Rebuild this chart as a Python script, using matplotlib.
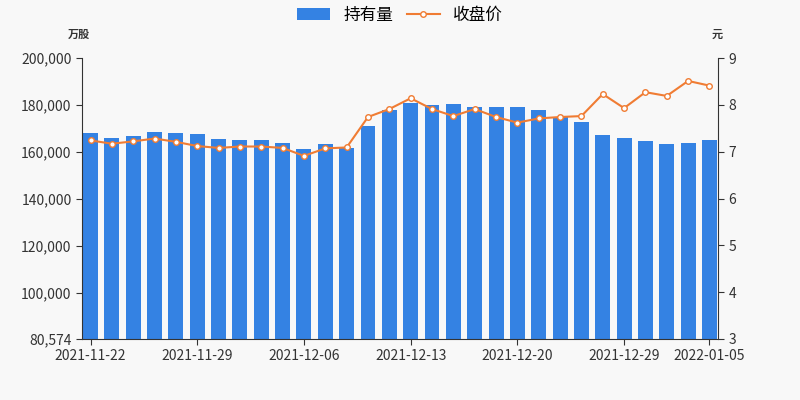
import matplotlib.pyplot as plt
import numpy as np

plt.rcParams['font.family'] = ['Noto Sans CJK SC', 'DejaVu Sans']

dates = ['2021-11-22', '2021-11-23', '2021-11-24', '2021-11-25', '2021-11-26',
         '2021-11-29', '2021-11-30', '2021-12-01', '2021-12-02', '2021-12-03',
         '2021-12-06', '2021-12-07', '2021-12-08', '2021-12-09', '2021-12-10',
         '2021-12-13', '2021-12-14', '2021-12-15', '2021-12-16', '2021-12-17',
         '2021-12-20', '2021-12-21', '2021-12-22', '2021-12-23', '2021-12-24',
         '2021-12-29', '2021-12-30', '2021-12-31', '2022-01-04', '2022-01-05']
holdings = [168113, 166120, 166832, 168540, 168256, 167687, 165552, 165267, 165267, 163701,
            161138, 163558, 161707, 171245, 177794, 180925, 180213, 180498, 179359, 179075,
            179075, 177936, 175089, 172811, 167260, 166120, 164839, 163273, 163985, 165267]
prices = [7.24, 7.17, 7.22, 7.28, 7.21, 7.12, 7.08, 7.11, 7.11, 7.08,
          6.91, 7.07, 7.09, 7.74, 7.91, 8.14, 7.91, 7.76, 7.91, 7.74,
          7.62, 7.71, 7.74, 7.76, 8.23, 7.93, 8.27, 8.19, 8.51, 8.41]

bg = '#f8f8f8'
fig = plt.figure(figsize=(8, 4), dpi=100, facecolor=bg)
ax = fig.add_axes([0.1025, 0.1525, 0.795, 0.7025], facecolor=bg)
x = np.arange(len(dates))
bars = ax.bar(x, holdings, width=0.7, color='#3482e3', label='持有量', zorder=2)
ax.set_xlim(-0.4, len(dates) - 0.6)
ax.set_ylim(80574, 200000)
ax.set_yticks([80574, 100000, 120000, 140000, 160000, 180000, 200000])
ax.set_yticklabels([f'{v:,}' for v in [80574, 100000, 120000, 140000, 160000, 180000, 200000]])
ax.set_xticks(x[::5].tolist() + [29])
ax.set_xticklabels([dates[i] for i in range(0, 30, 5)] + [dates[29]])
ax.tick_params(colors='#333333', labelsize=10, length=4)
for s in ['top', 'right']:
    ax.spines[s].set_visible(False)
ax.spines['left'].set_color('#333333')
ax.spines['bottom'].set_color('#333333')

ax2 = ax.twinx()
line, = ax2.plot(x, prices, color='#f07c33', lw=1.5, marker='o', markersize=4,
                 markerfacecolor='white', markeredgewidth=1, label='收盘价', zorder=3)
ax2.set_ylim(3, 9)
ax2.set_yticks(range(3, 10))
ax2.tick_params(colors='#333333', labelsize=10, length=4)
for s in ['top', 'left']:
    ax2.spines[s].set_visible(False)
ax2.spines['right'].set_color('#333333')
ax2.spines['bottom'].set_visible(False)

fig.text(0.085, 0.905, '万股', fontsize=8, fontweight='bold', color='#333333')
fig.text(0.89, 0.905, '元', fontsize=8, fontweight='bold', color='#333333')
fig.legend(handles=[bars, line], loc='upper center', ncol=2, frameon=False,
           fontsize=12, bbox_to_anchor=(0.5, 1.02), handlelength=2, columnspacing=0.8)

fig.savefig('out.png', facecolor=bg)
